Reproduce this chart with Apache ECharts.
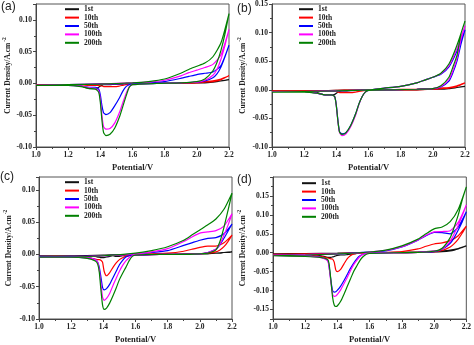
<!DOCTYPE html>
<html>
<head>
<meta charset="utf-8">
<script src="https://cdn.jsdelivr.net/npm/echarts@6/dist/echarts.min.js"></script>
<style>
  html, body { margin: 0; padding: 0; background: #fff; }
  #chart { width: 474px; height: 345px; }
</style>
</head>
<body>
<div id="chart"></div>
<script>
const cycleNames = ['1st', '10th', '50th', '100th', '200th']
const cycleColors = ['#111111', '#ff0000', '#0000ff', '#ff00ff', '#008000']
const xTicks = [1.0, 1.2, 1.4, 1.6, 1.8, 2.0, 2.2]

// potential path of one cycle: forward scan 1.0 -> 2.2, then reverse back to 1.0
// panel (a)
const potA = [1.0, 1.2, 1.4, 1.6, 1.7, 1.8, 1.9, 1.95, 2.0, 2.05, 2.1, 2.15, 2.2,
  2.175, 2.15, 2.125, 2.1, 2.05, 2.0, 1.9, 1.75, 1.6, 1.58, 1.56, 1.54, 1.52, 1.49, 1.46, 1.435, 1.42, 1.41, 1.40, 1.39, 1.37, 1.33, 1.28, 1.2, 1.0]
const a1st = [-0.002, -0.002, -0.001, 0.000, 0.000, 0.000, 0.000, 0.001, 0.001, 0.002, 0.002, 0.004, 0.006,
  0.005, 0.004, 0.003, 0.002, 0.001, 0.001, 0.000, 0.000, 0.000, 0.000, 0.000, -0.001, -0.001, -0.001, -0.002, -0.002, -0.002, -0.003, -0.004, -0.006, -0.008, -0.008, -0.004, -0.002, -0.002]
const a10th = [-0.002, -0.002, -0.001, 0.000, 0.000, 0.000, 0.001, 0.001, 0.002, 0.003, 0.004, 0.007, 0.012,
  0.009, 0.006, 0.004, 0.003, 0.002, 0.001, 0.000, 0.000, 0.000, -0.001, -0.002, -0.003, -0.004, -0.005, -0.005, -0.005, -0.005, -0.004, -0.004, -0.003, -0.003, -0.003, -0.002, -0.002, -0.002]
const a50th = [-0.003, -0.002, -0.001, 0.000, 0.001, 0.003, 0.008, 0.011, 0.014, 0.016, 0.018, 0.028, 0.060,
  0.042, 0.026, 0.015, 0.009, 0.004, 0.002, 0.001, 0.000, -0.001, -0.002, -0.005, -0.012, -0.022, -0.035, -0.046, -0.049, -0.046, -0.035, -0.018, -0.009, -0.006, -0.006, -0.004, -0.003, -0.003]
const a100th = [-0.003, -0.002, -0.001, 0.001, 0.002, 0.005, 0.012, 0.017, 0.021, 0.025, 0.030, 0.045, 0.085,
  0.060, 0.038, 0.022, 0.013, 0.005, 0.002, 0.001, 0.000, -0.002, -0.005, -0.016, -0.030, -0.045, -0.062, -0.071, -0.072, -0.068, -0.050, -0.025, -0.012, -0.008, -0.007, -0.004, -0.003, -0.003]
const a200th = [-0.003, -0.002, -0.001, 0.001, 0.003, 0.007, 0.016, 0.022, 0.027, 0.032, 0.042, 0.064, 0.110,
  0.078, 0.052, 0.033, 0.020, 0.007, 0.003, 0.001, 0.000, -0.002, -0.006, -0.020, -0.036, -0.052, -0.070, -0.080, -0.082, -0.077, -0.058, -0.030, -0.014, -0.009, -0.008, -0.005, -0.003, -0.003]

// panel (b)
const potB = [1.0, 1.2, 1.4, 1.6, 1.7, 1.8, 1.9, 1.95, 2.0, 2.05, 2.1, 2.15, 2.2,
  2.175, 2.15, 2.125, 2.1, 2.05, 2.0, 1.9, 1.75, 1.6, 1.58, 1.56, 1.54, 1.52, 1.49, 1.46, 1.435, 1.42, 1.41, 1.40, 1.39, 1.37, 1.33, 1.28, 1.2, 1.0]
const b1st = [-0.002, -0.002, -0.001, 0.000, 0.000, 0.000, 0.000, 0.001, 0.001, 0.001, 0.002, 0.004, 0.006,
  0.005, 0.004, 0.003, 0.002, 0.001, 0.001, 0.000, 0.000, 0.000, 0.000, 0.000, -0.001, -0.001, -0.001, -0.002, -0.002, -0.003, -0.004, -0.006, -0.008, -0.009, -0.009, -0.005, -0.002, -0.002]
const b10th = [-0.002, -0.002, -0.001, 0.000, 0.000, 0.001, 0.001, 0.002, 0.002, 0.003, 0.004, 0.007, 0.012,
  0.009, 0.006, 0.004, 0.003, 0.002, 0.001, 0.000, 0.000, 0.000, -0.001, -0.002, -0.003, -0.004, -0.005, -0.005, -0.005, -0.005, -0.004, -0.003, -0.003, -0.002, -0.002, -0.002, -0.002, -0.002]
const b50th = [-0.003, -0.003, -0.002, 0.000, 0.003, 0.006, 0.012, 0.017, 0.022, 0.027, 0.040, 0.068, 0.105,
  0.080, 0.050, 0.030, 0.015, 0.005, 0.002, 0.001, 0.000, -0.001, -0.004, -0.012, -0.025, -0.042, -0.062, -0.075, -0.077, -0.073, -0.054, -0.027, -0.012, -0.009, -0.009, -0.006, -0.003, -0.003]
const b100th = [-0.003, -0.003, -0.002, 0.000, 0.003, 0.006, 0.012, 0.017, 0.022, 0.028, 0.042, 0.072, 0.112,
  0.088, 0.055, 0.034, 0.018, 0.006, 0.002, 0.001, 0.000, -0.001, -0.004, -0.012, -0.026, -0.044, -0.064, -0.077, -0.080, -0.075, -0.056, -0.028, -0.012, -0.009, -0.009, -0.006, -0.003, -0.003]
const b200th = [-0.004, -0.003, -0.002, 0.000, 0.003, 0.006, 0.012, 0.017, 0.022, 0.029, 0.045, 0.078, 0.120,
  0.098, 0.060, 0.040, 0.022, 0.007, 0.002, 0.001, 0.000, -0.001, -0.004, -0.012, -0.025, -0.042, -0.062, -0.075, -0.078, -0.074, -0.055, -0.028, -0.012, -0.009, -0.009, -0.006, -0.004, -0.004]

// panel (c)
const potC = [1.0, 1.2, 1.4, 1.6, 1.7, 1.8, 1.9, 1.95, 2.0, 2.05, 2.1, 2.15, 2.2,
  2.175, 2.15, 2.125, 2.1, 2.05, 2.0, 1.9, 1.75, 1.6, 1.58, 1.56, 1.54, 1.52, 1.50, 1.48, 1.46, 1.44, 1.42, 1.405, 1.395, 1.385, 1.375, 1.365, 1.35, 1.3, 1.2, 1.0]
const c1st = [-0.002, -0.002, -0.001, 0.000, 0.000, 0.000, 0.001, 0.001, 0.001, 0.002, 0.002, 0.003, 0.004,
  0.003, 0.003, 0.002, 0.002, 0.001, 0.001, 0.000, 0.000, 0.000, 0.000, -0.001, -0.001, -0.002, -0.003, -0.003, -0.002, -0.003, -0.004, -0.005, -0.005, -0.005, -0.004, -0.004, -0.003, -0.002, -0.002, -0.002]
const c10th = [-0.003, -0.003, -0.002, 0.000, 0.001, 0.002, 0.005, 0.008, 0.011, 0.013, 0.013, 0.018, 0.030,
  0.020, 0.012, 0.007, 0.004, 0.002, 0.001, 0.000, 0.000, -0.001, -0.001, -0.002, -0.003, -0.005, -0.008, -0.013, -0.020, -0.028, -0.033, -0.026, -0.012, -0.009, -0.008, -0.008, -0.007, -0.005, -0.003, -0.003]
const c50th = [-0.004, -0.003, -0.002, 0.001, 0.003, 0.006, 0.014, 0.018, 0.022, 0.025, 0.026, 0.032, 0.047,
  0.036, 0.025, 0.015, 0.008, 0.003, 0.001, 0.000, 0.000, -0.001, -0.001, -0.002, -0.004, -0.009, -0.016, -0.026, -0.036, -0.046, -0.053, -0.055, -0.051, -0.035, -0.020, -0.012, -0.008, -0.005, -0.004, -0.003]
const c100th = [-0.004, -0.004, -0.002, 0.001, 0.004, 0.009, 0.020, 0.027, 0.033, 0.035, 0.037, 0.044, 0.063,
  0.045, 0.030, 0.016, 0.008, 0.003, 0.001, 0.000, 0.000, -0.001, -0.002, -0.005, -0.010, -0.017, -0.026, -0.037, -0.048, -0.060, -0.068, -0.071, -0.066, -0.045, -0.024, -0.012, -0.008, -0.005, -0.004, -0.004]
const c200th = [-0.004, -0.004, -0.002, 0.002, 0.006, 0.012, 0.022, 0.030, 0.038, 0.046, 0.055, 0.070, 0.095,
  0.068, 0.042, 0.020, 0.007, 0.002, 0.001, 0.000, 0.000, -0.001, -0.003, -0.010, -0.020, -0.029, -0.039, -0.052, -0.064, -0.075, -0.083, -0.085, -0.078, -0.055, -0.028, -0.015, -0.010, -0.006, -0.004, -0.004]

// panel (d)
const potD = [1.0, 1.2, 1.4, 1.6, 1.7, 1.8, 1.9, 1.95, 2.0, 2.05, 2.1, 2.15, 2.2,
  2.175, 2.15, 2.125, 2.1, 2.05, 2.0, 1.9, 1.75, 1.6, 1.58, 1.56, 1.54, 1.52, 1.50, 1.48, 1.46, 1.44, 1.42, 1.40, 1.39, 1.38, 1.37, 1.36, 1.35, 1.34, 1.3, 1.2, 1.0]
const d1st = [-0.003, -0.002, -0.001, 0.000, 0.000, 0.001, 0.002, 0.003, 0.004, 0.005, 0.007, 0.011, 0.018,
  0.014, 0.010, 0.007, 0.005, 0.003, 0.002, 0.001, 0.000, 0.000, 0.000, 0.000, -0.001, -0.002, -0.003, -0.004, -0.005, -0.006, -0.006, -0.007, -0.008, -0.010, -0.011, -0.012, -0.012, -0.012, -0.008, -0.004, -0.003]
const d10th = [-0.004, -0.003, -0.002, 0.000, 0.001, 0.003, 0.010, 0.017, 0.023, 0.026, 0.032, 0.045, 0.070,
  0.052, 0.036, 0.024, 0.015, 0.006, 0.002, 0.001, 0.000, 0.000, 0.000, -0.001, -0.001, -0.002, -0.003, -0.008, -0.016, -0.030, -0.044, -0.050, -0.046, -0.025, -0.017, -0.016, -0.015, -0.014, -0.010, -0.005, -0.004]
const d50th = [-0.007, -0.005, -0.003, 0.002, 0.005, 0.015, 0.033, 0.045, 0.054, 0.053, 0.050, 0.068, 0.108,
  0.082, 0.060, 0.040, 0.025, 0.009, 0.003, 0.001, 0.000, -0.001, -0.002, -0.004, -0.008, -0.016, -0.028, -0.042, -0.058, -0.074, -0.088, -0.099, -0.103, -0.104, -0.100, -0.075, -0.042, -0.020, -0.012, -0.008, -0.007]
const d100th = [-0.007, -0.005, -0.003, 0.002, 0.006, 0.016, 0.034, 0.046, 0.055, 0.056, 0.058, 0.080, 0.126,
  0.098, 0.072, 0.050, 0.030, 0.010, 0.004, 0.001, 0.000, -0.001, -0.002, -0.004, -0.010, -0.020, -0.032, -0.048, -0.066, -0.082, -0.098, -0.110, -0.114, -0.115, -0.110, -0.080, -0.045, -0.022, -0.013, -0.009, -0.007]
const d200th = [-0.008, -0.006, -0.003, 0.002, 0.007, 0.018, 0.036, 0.050, 0.063, 0.068, 0.082, 0.115, 0.174,
  0.140, 0.100, 0.068, 0.040, 0.012, 0.004, 0.001, 0.000, -0.002, -0.004, -0.010, -0.020, -0.035, -0.050, -0.070, -0.090, -0.110, -0.128, -0.140, -0.142, -0.138, -0.118, -0.075, -0.035, -0.018, -0.013, -0.010, -0.008]

const panels = [
  { tag: '(a)', pot: potA, ys: [a1st, a10th, a50th, a100th, a200th],
    grid: { left: 36, top: 4, width: 193, height: 143 }, yMin: -0.10, yMax: 0.125,
    legend: { left: 65, top: 5 }, tagPos: [1, 1], nameGap: 24 },
  { tag: '(b)', pot: potB, ys: [b1st, b10th, b50th, b100th, b200th],
    grid: { left: 272, top: 4, width: 193, height: 143 }, yMin: -0.10, yMax: 0.15,
    legend: { left: 299, top: 5 }, tagPos: [237, 3], nameGap: 25 },
  { tag: '(c)', pot: potC, ys: [c1st, c10th, c50th, c100th, c200th],
    grid: { left: 39, top: 177, width: 193, height: 144 }, yMin: -0.10, yMax: 0.12,
    legend: { left: 65, top: 178 }, tagPos: [0, 171], nameGap: 26 },
  { tag: '(d)', pot: potD, ys: [d1st, d10th, d50th, d100th, d200th],
    grid: { left: 273, top: 177, width: 195, height: 144 }, yMin: -0.175, yMax: 0.20,
    legend: { left: 302, top: 179 }, tagPos: [237, 174], nameGap: 26 }
]

const serif = 'Liberation Serif'
const textBold = { fontFamily: serif, fontWeight: 'bold', color: '#222' }

const option = {
  animation: false,
  backgroundColor: '#fff',
  grid: panels.map(p => ({ ...p.grid, show: true, borderColor: '#555', borderWidth: 1 })),
  xAxis: panels.map((p, i) => ({
    type: 'value', gridIndex: i, min: 1.0, max: 2.2, interval: 0.2,
    name: 'Potential/V', nameLocation: 'middle', nameGap: 16,
    nameTextStyle: { ...textBold, fontSize: 8.5 },
    axisLine: { show: true, onZero: false, lineStyle: { color: '#444', width: 1 } },
    axisTick: { show: true, length: 3, lineStyle: { color: '#444' } },
    minorTick: { show: true, splitNumber: 2, length: 2, lineStyle: { color: '#444' } },
    axisLabel: { ...textBold, fontSize: 7.5, margin: 4, formatter: v => v.toFixed(1),
      customValues: xTicks },
    splitLine: { show: false }
  })),
  yAxis: panels.map((p, i) => {
    const ax = {
      type: 'value', gridIndex: i, min: p.yMin, max: p.yMax,
      name: '{t|Current Density/A.cm}{s|-2}', nameLocation: 'middle', nameGap: p.nameGap,
      nameTextStyle: {
        rich: {
          t: { ...textBold, fontSize: 7.5, verticalAlign: 'bottom' },
          s: { ...textBold, fontSize: 5.5, verticalAlign: 'bottom', padding: [0, 0, 4, 1] }
        }
      },
      axisLine: { show: true, lineStyle: { color: '#444', width: 1 } },
      axisTick: { show: true, length: 3, lineStyle: { color: '#444' } },
      minorTick: { show: true, splitNumber: 2, length: 2, lineStyle: { color: '#444' } },
      axisLabel: { ...textBold, fontSize: 7.5, margin: 4, formatter: v => v.toFixed(2),
        showMaxLabel: p.yMax === 0.15, showMinLabel: p.yMin === -0.10 },
      splitLine: { show: false }
    }
    if (p.yMin === -0.10) ax.interval = 0.05
    else ax.splitNumber = 8
    return ax
  }),
  legend: panels.map(p => ({
    ...p.legend, orient: 'vertical', data: cycleNames,
    icon: 'rect', itemWidth: 14, itemHeight: 2, itemGap: 0, padding: 0,
    selectedMode: false,
    textStyle: { ...textBold, fontSize: 7.5, lineHeight: 8.4, color: '#222' }
  })),
  graphic: panels.map(p => ({
    type: 'text', left: p.tagPos[0], top: p.tagPos[1],
    style: { text: p.tag, font: '12px "Liberation Sans"', fill: '#222' }
  })),
  series: []
}

panels.forEach((p, i) => {
  p.ys.forEach((ys, k) => {
    option.series.push({
      type: 'line', name: cycleNames[k], xAxisIndex: i, yAxisIndex: i,
      data: p.pot.map((x, j) => [x, ys[j]]),
      symbol: 'none', smooth: 0.2,
      lineStyle: { width: 1.2, color: cycleColors[k] },
      itemStyle: { color: cycleColors[k] }
    })
  })
})

const chart = echarts.init(document.getElementById('chart'), null, { renderer: 'canvas' })
chart.setOption(option)
</script>
</body>
</html>
